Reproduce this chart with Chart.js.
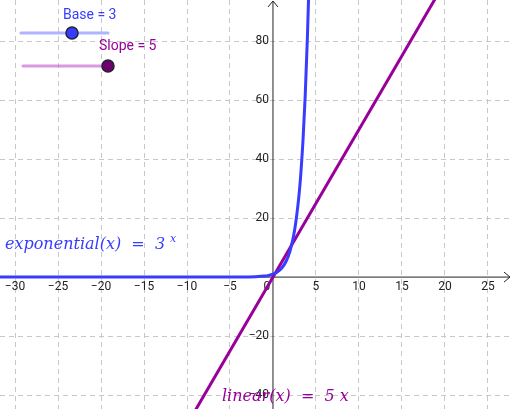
<!DOCTYPE html>
<html>
<head>
<meta charset="utf-8">
<script src="https://cdn.jsdelivr.net/npm/chart.js@4"></script>
<style>
  html, body { margin: 0; padding: 0; background: #fff; }
  #wrap { width: 512px; height: 409px; }
</style>
</head>
<body>
<div id="wrap"><canvas id="graph"></canvas></div>
<script>
// x range / tick values
const xTicks = [-30, -25, -20, -15, -10, -5, 0, 5, 10, 15, 20, 25];
const yTicks = [-40, -20, 20, 40, 60, 80];

// exponential(x) = 3^x
const expX = [-32, -10, -5, -3, -2, -1, -0.5, 0, 0.5, 1, 1.5, 2, 2.5, 3, 3.25, 3.5, 3.75, 4, 4.15];
const expY = [0, 0.00002, 0.0041, 0.037, 0.111, 0.333, 0.577, 1, 1.732, 3, 5.196, 9, 15.59, 27, 35.5, 46.8, 61.6, 81, 95.7];

// linear(x) = 5x
const linX = [-9, 19];
const linY = [-45, 95];

const blue = 'rgb(55,60,255)';
const purple = 'rgb(153,0,153)';

const overlay = {
    id: 'overlay',
    beforeDatasetsDraw(chart) {
        const { ctx, scales: { x, y } } = chart;
        const x0 = x.getPixelForValue(0), y0 = y.getPixelForValue(0);
        ctx.save();
        // axes
        ctx.strokeStyle = '#222';
        ctx.lineWidth = 1;
        ctx.beginPath();
        ctx.moveTo(0, y0); ctx.lineTo(510, y0);
        ctx.moveTo(x0, 409); ctx.lineTo(x0, 1);
        ctx.moveTo(504, y0 - 5); ctx.lineTo(510, y0); ctx.lineTo(504, y0 + 5);
        ctx.moveTo(x0 - 5, 7); ctx.lineTo(x0, 1); ctx.lineTo(x0 + 5, 7);
        ctx.stroke();
        // tick labels
        ctx.fillStyle = '#222';
        ctx.font = '12px Roboto';
        ctx.textBaseline = 'top';
        ctx.textAlign = 'center';
        xTicks.forEach(v => {
            const lbl = v < 0 ? '\u2212' + (-v) : String(v);
            const px = v === 0 ? x0 - 6 : x.getPixelForValue(v);
            ctx.fillText(lbl, px, y0 + 4);
        });
        ctx.textAlign = 'right';
        ctx.textBaseline = 'middle';
        yTicks.forEach(v => {
            const lbl = v < 0 ? '\u2212' + (-v) : String(v);
            ctx.fillText(lbl, x0 - 4, y.getPixelForValue(v));
        });
        ctx.restore();
    },
    afterDatasetsDraw(chart) {
        const { ctx } = chart;
        ctx.save();
        // sliders
        ctx.lineCap = 'round';
        ctx.lineWidth = 3;
        ctx.strokeStyle = 'rgba(120,130,255,0.6)';
        ctx.beginPath(); ctx.moveTo(21, 33); ctx.lineTo(108, 33); ctx.stroke();
        ctx.strokeStyle = 'rgba(200,110,210,0.7)';
        ctx.beginPath(); ctx.moveTo(23, 66); ctx.lineTo(108, 66); ctx.stroke();
        ctx.lineWidth = 1.5;
        ctx.fillStyle = blue; ctx.strokeStyle = '#223';
        ctx.beginPath(); ctx.arc(72, 33, 6, 0, Math.PI * 2); ctx.fill(); ctx.stroke();
        ctx.fillStyle = 'rgb(110,0,110)';
        ctx.beginPath(); ctx.arc(108, 66, 6, 0, Math.PI * 2); ctx.fill(); ctx.stroke();
        ctx.font = '14px Roboto';
        ctx.textBaseline = 'middle';
        ctx.textAlign = 'left';
        ctx.fillStyle = blue;
        ctx.fillText('Base = 3', 63, 15);
        ctx.fillStyle = purple;
        ctx.fillText('Slope = 5', 99, 46);
        // function labels
        ctx.font = 'italic 16px "DejaVu Serif"';
        ctx.fillStyle = blue;
        ctx.fillText('exponential(x)  =  3', 5, 245);
        ctx.font = 'italic 11px "DejaVu Serif"';
        ctx.fillText('x', 170, 239);
        ctx.font = 'italic 16px "DejaVu Serif"';
        ctx.fillStyle = purple;
        ctx.fillText('linear(x)  =  5 x', 222, 397);
        ctx.restore();
    }
};

new Chart(document.getElementById('graph'), {
    type: 'scatter',
    data: {
        datasets: [{
            label: 'exponential',
            data: expX.map((v, i) => ({ x: v, y: expY[i] })),
            showLine: true,
            borderColor: blue,
            borderWidth: 3,
            pointRadius: 0,
            cubicInterpolationMode: 'monotone'
        }, {
            label: 'linear',
            data: linX.map((v, i) => ({ x: v, y: linY[i] })),
            showLine: true,
            borderColor: purple,
            borderWidth: 3,
            pointRadius: 0
        }]
    },
    options: {
        responsive: true,
        maintainAspectRatio: false,
        animation: false,
        layout: { padding: 0 },
        plugins: { legend: { display: false }, tooltip: { enabled: false } },
        scales: {
            x: {
                min: -31.75, max: 27.8,
                border: { display: false },
                ticks: { display: false, stepSize: 5 },
                afterBuildTicks: s => { s.ticks = xTicks.filter(v => v !== 0).map(v => ({ value: v })); },
                grid: { color: '#c8c8c8', tickLength: 0, drawTicks: false },
                border: { display: false, dash: [5, 4] }
            },
            y: {
                min: -44.7, max: 93.9,
                ticks: { display: false },
                afterBuildTicks: s => { s.ticks = yTicks.map(v => ({ value: v })); },
                grid: { color: '#c8c8c8', drawTicks: false },
                border: { display: false, dash: [5, 4] }
            }
        }
    },
    plugins: [overlay]
});
</script>
</body>
</html>
